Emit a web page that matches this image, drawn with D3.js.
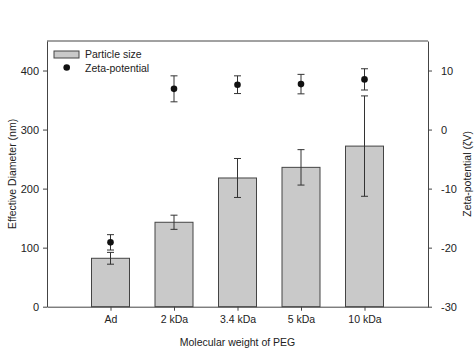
<!DOCTYPE html>
<html>
<head>
<meta charset="utf-8">
<script src="https://cdn.jsdelivr.net/npm/d3@7"></script>
<style>
  body { margin: 0; background: #fff; }
  svg { display: block; font-family: "Liberation Sans", Arial, sans-serif; }
</style>
</head>
<body>
<div id="chart"></div>
<script>
// chart data
var categories = ["Ad", "2 kDa", "3.4 kDa", "5 kDa", "10 kDa"];
var sizeMean = [82, 143, 218, 236, 272];
var sizeErr = [10, 12, 33, 30, 85];
var zetaMean = [-19.1, 6.9, 7.6, 7.7, 8.5];
var zetaErr = [1.3, 2.2, 1.5, 1.65, 1.8];
var leftTicks = [0, 100, 200, 300, 400];
var rightTicks = [-30, -20, -10, 0, 10];

function init() {
    var width = 474, height = 352;
    var margin = { top: 41, right: 46, bottom: 45.3, left: 47 };
    var innerW = width - margin.left - margin.right;
    var innerH = height - margin.top - margin.bottom;
    var axisColor = "#444";
    var textColor = "#222";

    var svg = d3.select("#chart")
        .append("svg")
        .attr("width", width)
        .attr("height", height);

    var g = svg.append("g")
        .attr("transform", `translate(${margin.left},${margin.top})`);

    // x positions: categories sit at 1..5 on a 0..6 scale
    var xScale = d3.scaleLinear()
        .domain([0, categories.length + 1])
        .range([0, innerW]);
    var xPos = (d, i) => xScale(i + 1);
    var barW = 38;

    var yLeft = d3.scaleLinear().domain([0, 450]).range([innerH, 0]);
    var yRight = d3.scaleLinear().domain([-30, 15]).range([innerH, 0]);

    // bars
    g.selectAll("rect.bar")
        .data(sizeMean)
        .enter()
        .append("rect")
        .attr("class", "bar")
        .attr("x", (d, i) => xPos(d, i) - barW / 2)
        .attr("y", d => yLeft(d))
        .attr("width", barW)
        .attr("height", d => innerH - yLeft(d))
        .attr("fill", "#c9c9c9")
        .attr("stroke", axisColor)
        .attr("stroke-width", 1);

    // error bars helper
    function errorBars(cls, means, errs, scale) {
        var eg = g.selectAll("g." + cls)
            .data(means)
            .enter()
            .append("g")
            .attr("class", cls)
            .attr("stroke", "#333")
            .attr("stroke-width", 1);
        eg.append("line")
            .attr("x1", (d, i) => xPos(d, i)).attr("x2", (d, i) => xPos(d, i))
            .attr("y1", (d, i) => scale(d + errs[i]))
            .attr("y2", (d, i) => scale(d - errs[i]));
        eg.append("line")
            .attr("x1", (d, i) => xPos(d, i) - 3.5).attr("x2", (d, i) => xPos(d, i) + 3.5)
            .attr("y1", (d, i) => scale(d + errs[i]))
            .attr("y2", (d, i) => scale(d + errs[i]));
        eg.append("line")
            .attr("x1", (d, i) => xPos(d, i) - 3.5).attr("x2", (d, i) => xPos(d, i) + 3.5)
            .attr("y1", (d, i) => scale(d - errs[i]))
            .attr("y2", (d, i) => scale(d - errs[i]));
    }

    errorBars("size-err", sizeMean, sizeErr, yLeft);
    errorBars("zeta-err", zetaMean, zetaErr, yRight);

    // zeta dots
    g.selectAll("circle.zeta")
        .data(zetaMean)
        .enter()
        .append("circle")
        .attr("class", "zeta")
        .attr("cx", (d, i) => xPos(d, i))
        .attr("cy", d => yRight(d))
        .attr("r", 3.3)
        .attr("fill", "#111");

    // frame top
    g.append("line")
        .attr("x1", 0).attr("x2", innerW)
        .attr("y1", 0).attr("y2", 0)
        .attr("stroke", axisColor);

    // axes
    var xAxis = g.append("g")
        .attr("transform", `translate(0,${innerH})`)
        .call(d3.axisBottom(xScale)
            .tickValues(d3.range(1, categories.length + 1))
            .tickFormat(d => categories[d - 1])
            .tickSize(4).tickSizeOuter(0).tickPadding(5));

    var leftAxis = g.append("g")
        .call(d3.axisLeft(yLeft).tickValues(leftTicks)
            .tickSize(4).tickSizeOuter(0).tickPadding(4));

    // plain hyphen for negatives, like the original
    var rightAxis = g.append("g")
        .attr("transform", `translate(${innerW},0)`)
        .call(d3.axisRight(yRight).tickValues(rightTicks)
            .tickFormat(d => String(d))
            .tickSize(4).tickSizeOuter(0).tickPadding(9));

    [xAxis, leftAxis, rightAxis].forEach(a => {
        a.selectAll("path, line").attr("stroke", axisColor);
        a.selectAll("text")
            .attr("fill", textColor)
            .style("font-size", "11px");
    });
    xAxis.selectAll("text").style("font-size", "10.5px");

    // axis titles
    svg.append("text")
        .attr("transform", `translate(16,${margin.top + innerH / 2}) rotate(-90)`)
        .attr("text-anchor", "middle")
        .attr("fill", textColor)
        .style("font-size", "10.5px")
        .text("Effective Diameter (nm)");

    svg.append("text")
        .attr("transform", `translate(471,${margin.top + innerH / 2}) rotate(-90)`)
        .attr("text-anchor", "middle")
        .attr("fill", textColor)
        .style("font-size", "10.5px")
        .text("Zeta-potential (ζV)");

    svg.append("text")
        .attr("x", margin.left + innerW / 2)
        .attr("y", 346)
        .attr("text-anchor", "middle")
        .attr("fill", textColor)
        .style("font-size", "10.5px")
        .text("Molecular weight of PEG");

    // legend
    var legend = g.append("g").attr("transform", "translate(7,10)");
    legend.append("rect")
        .attr("x", 0).attr("y", 0)
        .attr("width", 25).attr("height", 7)
        .attr("fill", "#c9c9c9")
        .attr("stroke", axisColor);
    legend.append("text")
        .attr("x", 31).attr("y", 7)
        .attr("fill", textColor)
        .style("font-size", "10.5px")
        .text("Particle size");
    legend.append("circle")
        .attr("cx", 12.7).attr("cy", 16.5)
        .attr("r", 3.3)
        .attr("fill", "#111");
    legend.append("text")
        .attr("x", 31).attr("y", 20.5)
        .attr("fill", textColor)
        .style("font-size", "10.5px")
        .text("Zeta-potential");
}

init();
</script>
</body>
</html>
